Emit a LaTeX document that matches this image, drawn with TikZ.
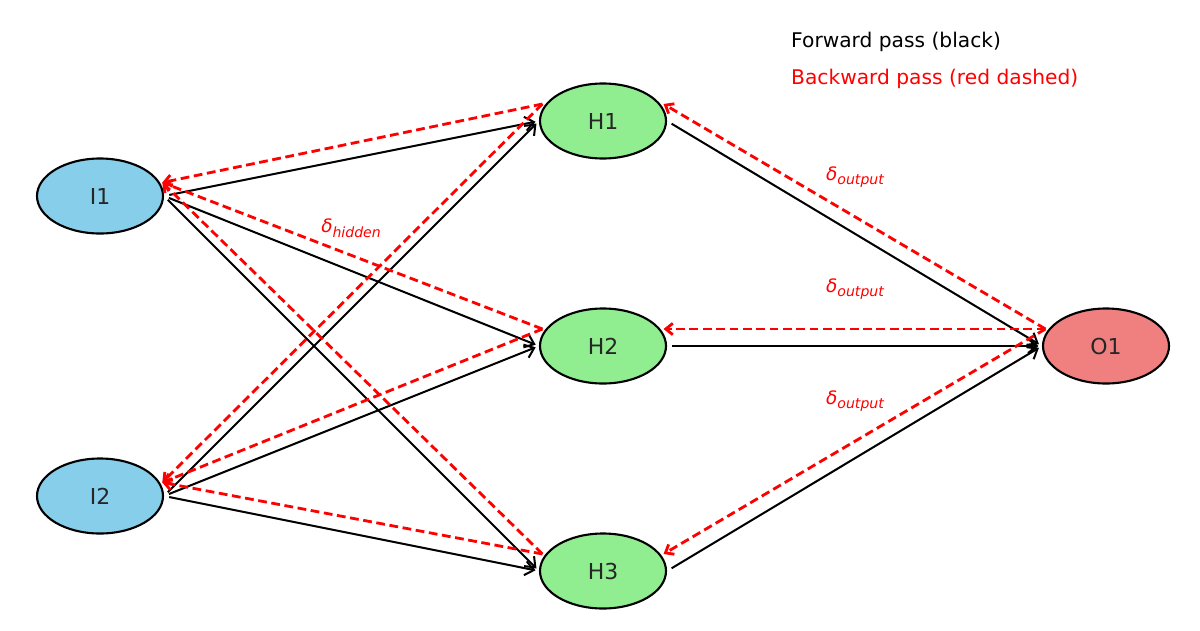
\documentclass[tikz,border=0pt]{standalone}
\usepackage{fontspec}
\setmainfont{DejaVu Sans}
\usetikzlibrary{arrows.meta,shapes.geometric}

\definecolor{inblue}{HTML}{87CEEB}
\definecolor{hidgreen}{HTML}{90EE90}
\definecolor{outred}{HTML}{F08080}
\definecolor{lbl}{HTML}{262626}

\tikzset{
  neuron/.style={draw, ellipse, line width=1.2pt, minimum width=2.52cm,
    minimum height=1.5cm, inner sep=0pt, text=lbl, font=\fontsize{12.5}{14}\selectfont},
  fwd/.style={-{Straight Barb[length=5pt,width=8pt]}, line width=1.15pt,
    shorten <=3pt, shorten >=2pt},
  bwd/.style={-{Straight Barb[length=4pt,width=6.5pt]}, red, line width=1.6pt,
    dash pattern=on 5pt off 2.6pt},
  delta/.style={red, font=\fontsize{10.5}{12}\selectfont\itshape}
}

\begin{document}
\begin{tikzpicture}
  \useasboundingbox (0,0) rectangle (24,12.6);

  % --- input layer ---
  \node[neuron, fill=inblue] (i1) at (2.0,8.68) {I1};
  \node[neuron, fill=inblue] (i2) at (2.0,2.68) {I2};

  % --- hidden layer ---
  \node[neuron, fill=hidgreen] (h1) at (12.06,10.18) {H1};
  \node[neuron, fill=hidgreen] (h2) at (12.06,5.68) {H2};
  \node[neuron, fill=hidgreen] (h3) at (12.06,1.18) {H3};

  % --- output layer ---
  \node[neuron, fill=outred] (o1) at (22.12,5.68) {O1};

  % --- forward pass (black) ---
  \foreach \src in {i1,i2}
    \foreach \dst in {h1,h2,h3}
      \draw[fwd] (\src.east) -- (\dst.west);
  \foreach \src in {h1,h2,h3}
    \draw[fwd] (\src.east) -- (o1.west);

  % --- backward pass (red dashed) ---
  \foreach \src in {h1,h2,h3}
    \foreach \dst in {i1,i2}
      \draw[bwd] ([xshift=2pt,yshift=0.34cm]\src.west) -- ([xshift=-1pt,yshift=0.27cm]\dst.east);
  \foreach \dst in {h1,h2,h3}
    \draw[bwd] ([xshift=2pt,yshift=0.34cm]o1.west) -- ([xshift=-2pt,yshift=0.34cm]\dst.east);

  % --- error labels ---
  \node[delta] (dh) at (7.02,8.04) {δ\raisebox{-0.45ex}{\footnotesize hidden}};
  \node[delta] (do1) at (17.1,9.06) {δ\raisebox{-0.45ex}{\footnotesize output}};
  \node[delta] (do2) at (17.1,6.82) {δ\raisebox{-0.45ex}{\footnotesize output}};
  \node[delta] (do3) at (17.1,4.58) {δ\raisebox{-0.45ex}{\footnotesize output}};

  % --- legend ---
  \node[anchor=west, font=\fontsize{11.5}{13}\selectfont] (lfwd) at (15.7,11.76) {Forward pass (black)};
  \node[anchor=west, red, font=\fontsize{11.5}{13}\selectfont] (lbwd) at (15.7,11.02) {Backward pass (red dashed)};

\end{tikzpicture}
\end{document}
